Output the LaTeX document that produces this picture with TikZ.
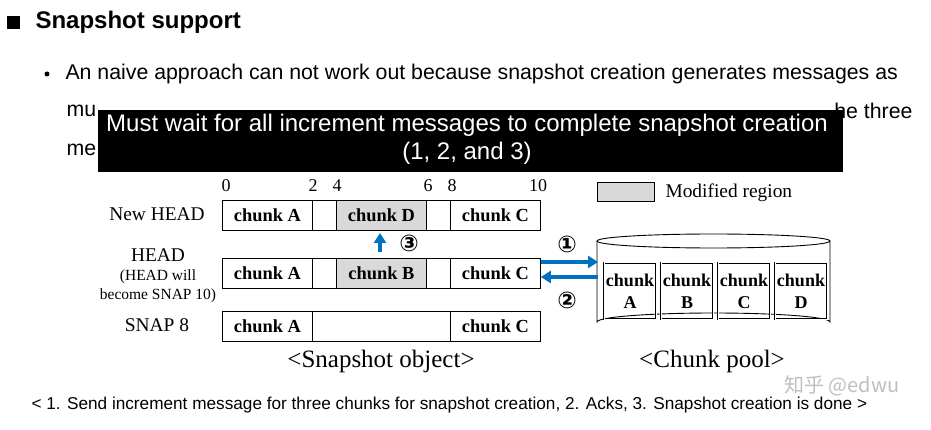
\documentclass[tikz,border=0pt]{standalone}
\usepackage{fontspec}
\setmainfont{Liberation Serif}
\newfontfamily\arial{Liberation Sans}
\newfontfamily\dejavu{DejaVu Sans}
\newfontfamily\cjk{Noto Sans CJK SC}
\usetikzlibrary{arrows.meta}
\definecolor{arrblue}{RGB}{0,112,192}
\definecolor{modgray}{RGB}{217,217,217}
\tikzset{
  cbox/.style={draw,line width=0.9pt,minimum height=30pt,inner sep=0pt,font=\fontsize{18.4}{18}\selectfont\bfseries},
  lbl/.style={font=\fontsize{19.4}{19}\selectfont},
  tick/.style={font=\fontsize{18}{18}\selectfont},
  pbox/.style={draw,double,double distance=1pt,line width=0.6pt,minimum width=52pt,minimum height=56pt,inner sep=0pt,align=center,font=\fontsize{18}{22}\selectfont\bfseries},
  slide/.style={font=\arial\fontsize{21.3}{21}\selectfont,anchor=west},
  barr/.style={arrblue,line width=3.5pt,-{Triangle[length=10pt,width=12pt]}},
  circ/.style={font=\dejavu\fontsize{23}{23}\selectfont\bfseries}
}
\begin{document}
\begin{tikzpicture}[x=1pt,y=-1pt]
\useasboundingbox[fill=white] (0,0) rectangle (931,430);
% header
\fill (7,16) rectangle (20,29);
\node[anchor=west,font=\arial\fontsize{24}{24}\selectfont\bfseries] (title) at (32,22) {Snapshot support};
\fill (47,74) circle (2.5);
\node[slide] (l1) at (62,74) {An naive approach can not work out because snapshot creation generates messages as};
\node[slide] (l2a) at (63,111) {mu};
\node[slide,anchor=east] (l2b) at (916,111) {he three};
\node[slide] (l3) at (63,150) {me};
\node[fill=black,minimum width=745pt,minimum height=62pt,anchor=north west,inner sep=0pt] (banner) at (98,110) {};
\node[text=white,align=center,font=\arial\fontsize{24}{28}\selectfont] (bt) at (467,139) {Must wait for all increment messages to complete snapshot creation\\(1, 2, and 3)};
% ticks
\foreach \v/\x in {0/226,2/313,4/337,6/428,8/452,10/538}{\node[tick] (t\v) at (\x,186) {\v};}
% rows
\node[cbox,minimum width=90pt,anchor=north west] (na) at (222,200) {chunk A};
\node[cbox,minimum width=24pt,anchor=north west] (ne1) at (312,200) {};
\node[cbox,minimum width=90pt,anchor=north west,fill=modgray] (nd) at (336,200) {chunk D};
\node[cbox,minimum width=24pt,anchor=north west] (ne2) at (426,200) {};
\node[cbox,minimum width=90pt,anchor=north west] (nc) at (450,200) {chunk C};
\node[cbox,minimum width=90pt,anchor=north west] (ha) at (222,258) {chunk A};
\node[cbox,minimum width=24pt,anchor=north west] (he1) at (312,258) {};
\node[cbox,minimum width=90pt,anchor=north west,fill=modgray] (hb) at (336,258) {chunk B};
\node[cbox,minimum width=24pt,anchor=north west] (he2) at (426,258) {};
\node[cbox,minimum width=90pt,anchor=north west] (hc) at (450,258) {chunk C};
\node[cbox,minimum width=90pt,anchor=north west] (sa) at (222,311) {chunk A};
\node[cbox,minimum width=138pt,anchor=north west] (se) at (312,311) {};
\node[cbox,minimum width=90pt,anchor=north west] (sc) at (450,311) {chunk C};
\node[lbl] (lnh) at (157,214) {New HEAD};
\node[lbl,align=center] (lh) at (158,255) {HEAD};
\node[font=\fontsize{15.5}{19}\selectfont,align=center] (lhw) at (158,286) {(HEAD will\\become SNAP 10)};
\node[lbl] (ls) at (157,325) {SNAP 8};
% arrow 3
\coordinate (u1) at (380,252);
\coordinate (u2) at (380,233);
\draw[barr] (u1) -- (u2);
\node[circ] (c3) at (409,243) {③};
% legend
\node[draw,fill=modgray,line width=0.9pt,minimum width=57pt,minimum height=19pt,inner sep=0pt] (leg) at (626,192) {};
\node[lbl,anchor=west] (legt) at (662,193) {Modified region};
% cylinder
\draw[line width=0.9pt] (597,241) -- (597,322) arc[start angle=180,end angle=360,x radius=116.5,y radius=9] -- (830,241);
\draw[line width=0.9pt] (713.5,241) ellipse[x radius=116.5,y radius=7];
\node[pbox] (pa) at (630,291) {chunk\\A};
\node[pbox] (pb) at (687,291) {chunk\\B};
\node[pbox] (pc) at (744,291) {chunk\\C};
\node[pbox] (pd) at (801,291) {chunk\\D};
\coordinate (cyl1) at (598,262);
\coordinate (cyl2) at (598,277);
\draw[barr] (hc.east |- cyl1) -- (cyl1);
\draw[barr] (cyl2) -- (hc.east |- cyl2);
\node[circ] (c1) at (567,244) {①};
\node[circ] (c2) at (567,300) {②};
\node[font=\fontsize{25}{25}\selectfont] (so) at (381,361) {<Snapshot object>};
\node[font=\fontsize{25}{25}\selectfont] (cp) at (712,361) {<Chunk pool>};
\node[anchor=west,font=\arial\fontsize{17.2}{17}\selectfont] (cap) at (28,405) {< 1. Send increment message for three chunks for snapshot creation, 2. Acks, 3. Snapshot creation is done >};
\node[text=black!25,font=\cjk\fontsize{20}{20}\selectfont] (wm) at (842,386) {知乎 @edwu};
\end{tikzpicture}
\end{document}
